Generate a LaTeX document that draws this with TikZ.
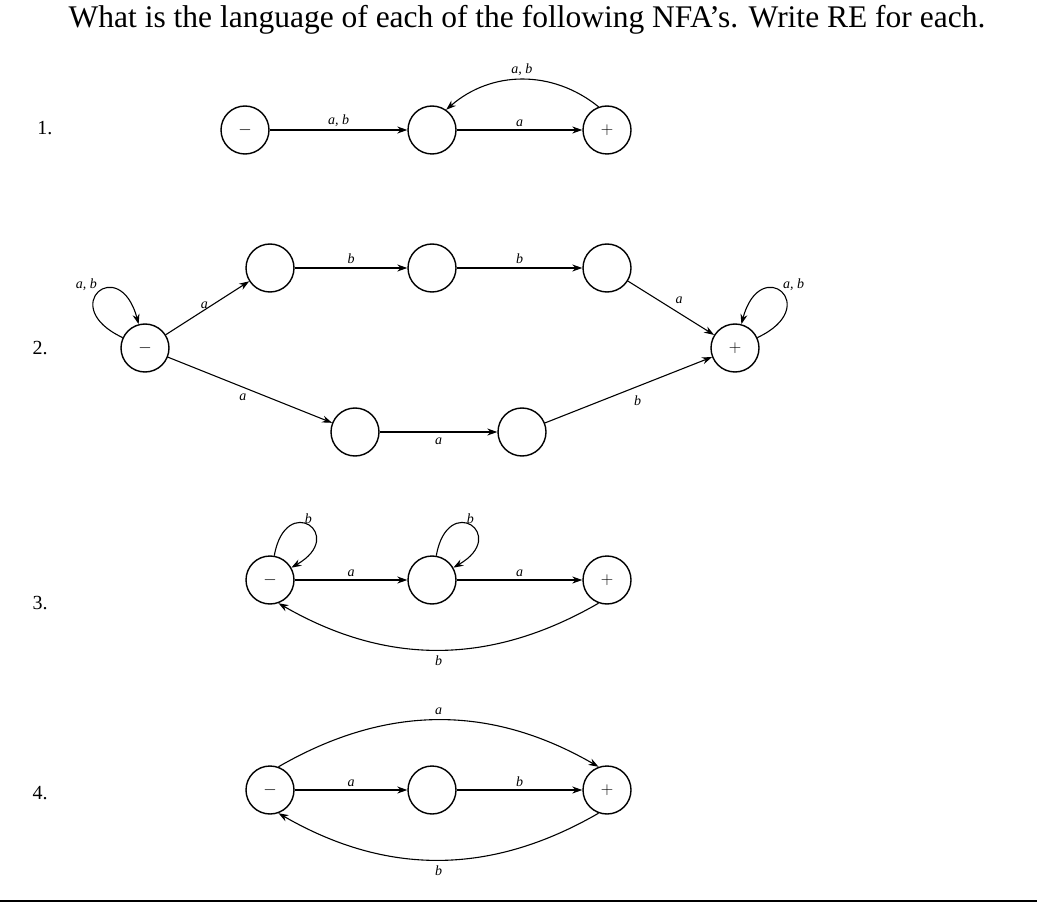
\documentclass[tikz,border=0pt]{standalone}
\usepackage{fontspec}
\setmainfont{Liberation Serif}
\usetikzlibrary{arrows.meta}
\begin{document}
\begin{tikzpicture}[x=1pt,y=-1pt,
  st/.style={circle,draw,line width=1.4pt,minimum size=48pt,inner sep=0pt,font=\fontsize{16}{18}\selectfont},
  tr/.style={-{Stealth[length=10pt,width=7pt]},line width=1.1pt},
  lb/.style={font=\itshape\fontsize{14}{16}\selectfont,inner sep=1pt},
  num/.style={font=\fontsize{20}{24}\selectfont}]
\useasboundingbox (0,0) rectangle (1037,904);
\node[font=\fontsize{31.5}{36}\selectfont] (title) at (527,20) {What is the language of each of the following NFA’s. Write RE for each.};
% row 1
\node[num] (n1) at (45,128) {1.};
\node[st] (a1) at (245,130) {$-$};
\node[st] (a2) at (432,130) {};
\node[st] (a3) at (607,130) {$+$};
\draw[tr] (a1) -- node[lb,above=2pt]{a, b} (a2);
\draw[tr] (a2) -- node[lb,above=2pt]{a} (a3);
\draw[tr] (a3.110) to[bend right=40] node[lb,above=2pt]{a, b} (a2.55);
% row 2
\node[num] (n2) at (40,348) {2.};
\node[st] (s) at (145,348) {$-$};
\node[st] (t1) at (270,268) {};
\node[st] (t2) at (432,268) {};
\node[st] (t3) at (607,268) {};
\node[st] (b1) at (355,432) {};
\node[st] (b2) at (522,432) {};
\node[st] (f) at (735,348) {$+$};
\draw[tr] (s) to[out=155,in=105,looseness=9] node[lb,above left]{a, b} (s);
\draw[tr] (f) to[out=25,in=75,looseness=9] node[lb,above right]{a, b} (f);
\draw[tr] (s) -- node[lb,above left=-2pt]{a} (t1);
\draw[tr] (t1) -- node[lb,above=3pt]{b} (t2);
\draw[tr] (t2) -- node[lb,above=3pt]{b} (t3);
\draw[tr] (t3) -- node[lb,above right=3pt]{a} (f);
\draw[tr] (s) -- node[lb,below left=2pt]{a} (b1);
\draw[tr] (b1) -- node[lb,below=4pt]{a} (b2);
\draw[tr] (b2) -- node[lb,below right=4pt]{b} (f);
% row 3
\node[num] (n3) at (40,603) {3.};
\node[st] (c1) at (270,580) {$-$};
\node[st] (c2) at (432,580) {};
\node[st] (c3) at (607,580) {$+$};
\draw[tr] (c1) to[out=80,in=30,looseness=8] node[lb,above]{b} (c1);
\draw[tr] (c2) to[out=80,in=30,looseness=8] node[lb,above]{b} (c2);
\draw[tr] (c1) -- node[lb,above=2pt]{a} (c2);
\draw[tr] (c2) -- node[lb,above=2pt]{a} (c3);
\draw[tr] (c3.250) to[bend left=30] node[lb,below=4pt]{b} (c1.290);
% row 4
\node[num] (n4) at (40,793) {4.};
\node[st] (d1) at (270,790) {$-$};
\node[st] (d2) at (432,790) {};
\node[st] (d3) at (607,790) {$+$};
\draw[tr] (d1) -- node[lb,above=2pt]{a} (d2);
\draw[tr] (d2) -- node[lb,above=2pt]{b} (d3);
\draw[tr] (d1.70) to[bend left=30] node[lb,above=4pt]{a} (d3.110);
\draw[tr] (d3.250) to[bend left=30] node[lb,below=4pt]{b} (d1.290);
\draw[line width=1.5pt] (0,901) -- (1037,901);
\end{tikzpicture}
\end{document}
